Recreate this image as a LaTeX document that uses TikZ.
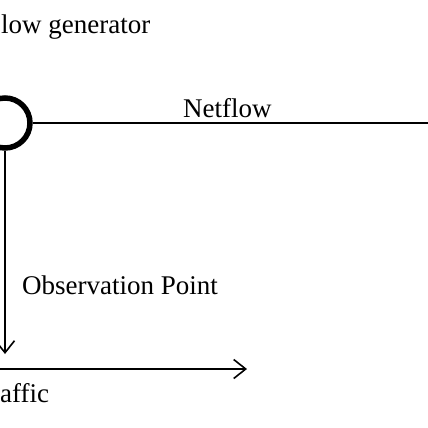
\documentclass[tikz,border=0pt]{standalone}
\usepackage{fontspec}
\setmainfont{Liberation Serif}
\usetikzlibrary{arrows.meta}
\tikzset{label text/.style={inner sep=0pt,font=\fontsize{27}{32}\selectfont},
	probe/.style={circle,draw,line width=5.5pt,minimum size=50pt,inner sep=0pt}}

\begin{document}
\begin{tikzpicture}[x=1pt,y=1pt]
		\useasboundingbox (0,0) rectangle (428,-428);
		\clip (0,0) rectangle (428,-428);
		\node[probe] (gen) at (5,-123) {};
		\coordinate (netend) at (432,-123);
		\coordinate (obsend) at (5,-354);
		\coordinate (trstart) at (-5,-369);
		\coordinate (trend) at (247,-369);
		\begin{scope}[every node/.style={label text}]
			\node[anchor=base west] (gentext) at (1,-34) {low generator};
			\node[anchor=base west] (netflow) at (183,-117) {Netflow};
			\node[anchor=base west] (obs) at (22,-294) {Observation Point};
			\node[anchor=base west] (traffic) at (0,-402) {affic};
		\end{scope}
		\begin{scope}[>={Straight Barb[length=12pt,width=19pt,line width=1.6pt]},
			every edge/.style={draw,line width=1.4pt}]
			\path [-] (gen) edge (netend);
			\path [->] (gen) edge (obsend);
			\path [->] (trstart) edge (trend);
		\end{scope}
	\end{tikzpicture}
\end{document}
